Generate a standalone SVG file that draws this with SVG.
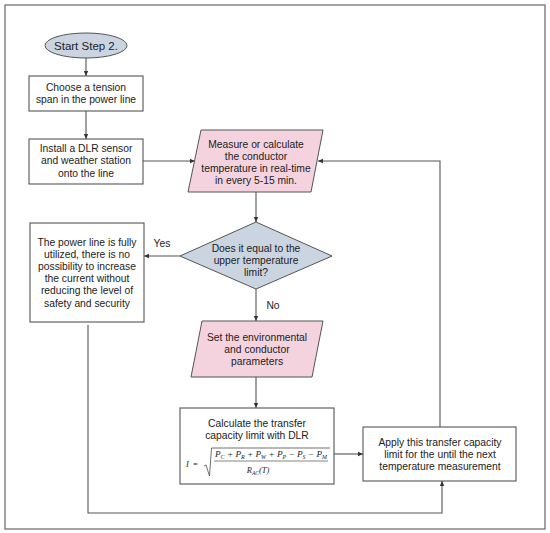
<svg xmlns="http://www.w3.org/2000/svg" width="550" height="533" viewBox="0 0 550 533">
<defs>
<style>
.t{font-family:"Liberation Sans",Arial,sans-serif;font-size:10.3px;fill:#222;text-anchor:middle}
.box{fill:#fff;stroke:#555;stroke-width:1.1}
.pink{fill:#f4d2de;stroke:#555;stroke-width:1}
.blue{fill:#cbd4e1;stroke:#555;stroke-width:1}
.c{fill:none;stroke:#555;stroke-width:1.1}
.m{font-family:"Liberation Serif","Times New Roman",serif;font-style:italic;font-size:8.5px;fill:#222}
</style>
<marker id="ah" markerWidth="6" markerHeight="6" refX="5" refY="3" orient="auto" markerUnits="userSpaceOnUse">
<path d="M0,0.8 L5,3 L0,5.2 Z" fill="#333"/>
</marker>
</defs>
<rect width="550" height="533" fill="#fff"/>
<rect x="5" y="5" width="540" height="524" fill="none" stroke="#666" stroke-width="1.2"/>

<g id="connectors">
<path class="c" d="M86,58 V76" marker-end="url(#ah)"/>
<path class="c" d="M86,111 V139" marker-end="url(#ah)"/>
<path class="c" d="M143,161 H195" marker-end="url(#ah)"/>
<path class="c" d="M440,427 V161 H318" marker-end="url(#ah)"/>
<path class="c" d="M256,192 V222" marker-end="url(#ah)"/>
<path class="c" d="M180,256 H144" marker-end="url(#ah)"/>
<path class="c" d="M256,289 V321" marker-end="url(#ah)"/>
<path class="c" d="M256,377 V408" marker-end="url(#ah)"/>
<path class="c" d="M334,454 H363" marker-end="url(#ah)"/>
<path class="c" d="M88,325 V513 H442 V481" marker-end="url(#ah)"/>
<text class="t" x="162" y="246.5">Yes</text>
<text class="t" x="273" y="308.5">No</text>
</g>

<g id="start">
<ellipse cx="86" cy="45.5" rx="41" ry="12.5" class="blue"/>
<text class="t" x="86" y="49.6" style="font-size:11.5px">Start Step 2.</text>
</g>

<g id="choose">
<rect x="29" y="76" width="114" height="35" class="box"/>
<text class="t" x="86" y="90.6">Choose a tension</text>
<text class="t" x="86" y="102.8">span in the power line</text>
</g>

<g id="install">
<rect x="29" y="139" width="114" height="45" class="box"/>
<text class="t" x="86" y="151.8">Install a DLR sensor</text>
<text class="t" x="86" y="164.3">and weather station</text>
<text class="t" x="86" y="176.6">onto the line</text>
</g>

<g id="measure">
<polygon points="201,130 323,130 311,192 188,192" class="pink"/>
<text class="t" x="256" y="147.6">Measure or calculate</text>
<text class="t" x="256" y="159.8">the conductor</text>
<text class="t" x="256" y="172">temperature in real-time</text>
<text class="t" x="256" y="184.2">in every 5-15 min.</text>
</g>

<g id="decision">
<polygon points="256,222 332,256 256,289 180,256" class="blue"/>
<text class="t" x="256" y="251.6">Does it equal to the</text>
<text class="t" x="256" y="263.8">upper temperature</text>
<text class="t" x="256" y="276">limit?</text>
</g>

<g id="fully">
<rect x="30" y="223" width="114" height="99" class="box"/>
<text class="t" x="87" y="245.6">The power line is fully</text>
<text class="t" x="87" y="257.8">utilized, there is no</text>
<text class="t" x="87" y="270">possibility to increase</text>
<text class="t" x="87" y="282.2">the current without</text>
<text class="t" x="87" y="294.4">reducing the level of</text>
<text class="t" x="87" y="306.6">safety and security</text>
</g>

<g id="setparams">
<polygon points="202,321 323,321 312,377 191,377" class="pink"/>
<text class="t" x="257" y="340.6">Set the environmental</text>
<text class="t" x="257" y="352.8">and conductor</text>
<text class="t" x="257" y="365">parameters</text>
</g>

<g id="calculate">
<rect x="180" y="408" width="154" height="76" class="box"/>
<text class="t" x="257" y="426.6">Calculate the transfer</text>
<text class="t" x="257" y="438.8">capacity limit with DLR</text>
<text class="m" x="186" y="467">I</text>
<text class="m" x="193" y="467" style="font-style:normal">=</text>
<path d="M204,466 L206,465 L209.5,476 L211.5,448 H330" fill="none" stroke="#333" stroke-width="0.7"/>
<text class="m" x="215" y="457" textLength="112" lengthAdjust="spacingAndGlyphs">P<tspan font-size="5.5" dy="1.5">C</tspan><tspan dy="-1.5"> + P</tspan><tspan font-size="5.5" dy="1.5">R</tspan><tspan dy="-1.5"> +  P</tspan><tspan font-size="5.5" dy="1.5">W</tspan><tspan dy="-1.5"> + P</tspan><tspan font-size="5.5" dy="1.5">P</tspan><tspan dy="-1.5"> −  P</tspan><tspan font-size="5.5" dy="1.5">S</tspan><tspan dy="-1.5"> −  P</tspan><tspan font-size="5.5" dy="1.5">M</tspan></text>
<line x1="214" y1="461" x2="328" y2="461" stroke="#333" stroke-width="0.6"/>
<text class="m" x="258" y="473" text-anchor="middle">R<tspan font-size="5.5" dy="1.5">AC</tspan><tspan dy="-1.5">(T)</tspan></text>
</g>

<g id="apply">
<rect x="363" y="427" width="153" height="54" class="box"/>
<text class="t" x="440" y="445.6">Apply this transfer capacity</text>
<text class="t" x="440" y="457.8">limit for the until the next</text>
<text class="t" x="440" y="470">temperature measurement</text>
</g>
</svg>
